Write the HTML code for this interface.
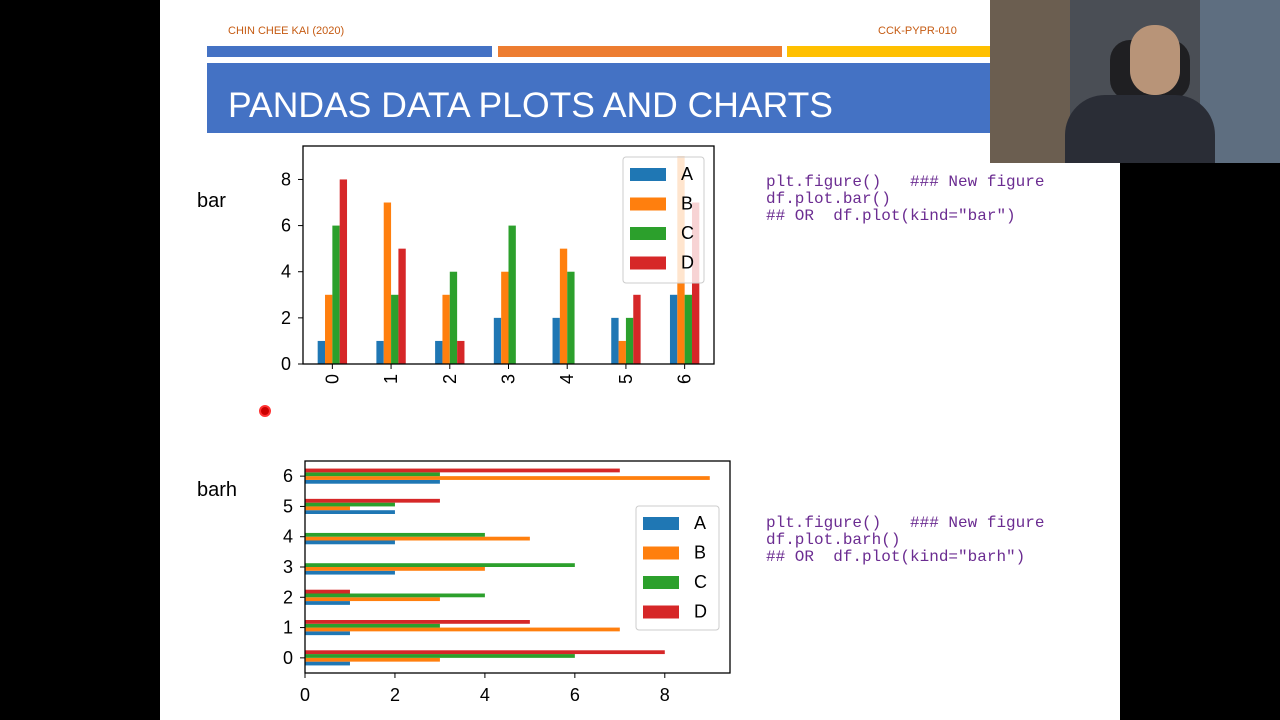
<!DOCTYPE html>
<html><head><meta charset="utf-8"><style>
body{margin:0;width:1280px;height:720px;background:#000;position:relative;overflow:hidden;font-family:"Liberation Sans",sans-serif}
.abs{position:absolute}
.code{position:absolute;font-family:"Liberation Mono",monospace;font-size:16px;color:#6b2c91;line-height:17px;white-space:pre}
</style></head><body>
<div class="abs" style="left:160px;top:0;width:960px;height:720px;background:#fff"></div>
<div class="abs" style="left:228px;top:25px;font-size:11px;color:#c55a11">CHIN CHEE KAI (2020)</div>
<div class="abs" style="left:878px;top:25px;font-size:11px;color:#c55a11">CCK-PYPR-010</div>
<div class="abs" style="left:207px;top:46px;width:285px;height:11px;background:#4472c4"></div>
<div class="abs" style="left:498px;top:46px;width:284px;height:11px;background:#ed7d31"></div>
<div class="abs" style="left:787px;top:46px;width:203px;height:11px;background:#ffc000"></div>
<div class="abs" style="left:207px;top:63px;width:783px;height:70px;background:#4472c4"></div>
<div class="abs" style="left:228px;top:85px;font-size:35.5px;color:#fff">PANDAS DATA PLOTS AND CHARTS</div>
<div class="abs" style="left:197px;top:190px;font-size:20px;color:#000">bar</div>
<div class="abs" style="left:197px;top:479px;font-size:20px;color:#000">barh</div>
<div class="code" style="left:766px;top:174px">plt.figure()   ### New figure
df.plot.bar()
## OR  df.plot(kind="bar")</div>
<div class="code" style="left:766px;top:515px">plt.figure()   ### New figure
df.plot.barh()
## OR  df.plot(kind="barh")</div>
<div class="abs" style="left:990px;top:0;width:290px;height:163px;background:#4a4e55;overflow:hidden">
 <div class="abs" style="left:0;top:0;width:80px;height:163px;background:#6b5e50"></div>
 <div class="abs" style="left:210px;top:0;width:80px;height:163px;background:#5e6e80"></div>
 <div class="abs" style="left:120px;top:40px;width:80px;height:60px;background:#1f1f22;border-radius:20px"></div>
 <div class="abs" style="left:140px;top:25px;width:50px;height:70px;background:#b89478;border-radius:24px"></div>
 <div class="abs" style="left:75px;top:95px;width:150px;height:80px;background:#2a2d36;border-radius:40px 40px 0 0"></div>
</div>
<div class="abs" style="left:259px;top:405px;width:8px;height:8px;border:2px solid #f33;border-radius:50%;background:#c00"></div>
<svg id="chart" class="abs" style="left:0;top:0" width="1280" height="720"></svg>
<script>
const categories=["0","1","2","3","4","5","6"];
const seriesNames=["A","B","C","D"];
const seriesA=[1,1,1,2,2,2,3];
const seriesB=[3,7,3,4,5,1,9];
const seriesC=[6,3,4,6,4,2,3];
const seriesD=[8,5,1,0,0,3,7];
const valueTicks=[0,2,4,6,8];
const colors=["#1f77b4","#ff7f0e","#2ca02c","#d62728"];
const series=[seriesA,seriesB,seriesC,seriesD];
const svg=document.getElementById('chart');
const NS="http://www.w3.org/2000/svg";
function mk(t,a,txt){const e=document.createElementNS(NS,t);for(const k in a)e.setAttribute(k,a[k]);if(txt!==undefined)e.textContent=txt;svg.appendChild(e);return e;}
const vmax=Math.max(...series.flat())*1.05;
const b={x0:303,x1:714,y0:146,y1:364};
const bx=i=>b.x0+(i+0.5)/categories.length*(b.x1-b.x0);
const by=v=>b.y1-v/vmax*(b.y1-b.y0);
const catW=(b.x1-b.x0)/categories.length, bw=catW*0.125;
series.forEach((s,j)=>s.forEach((v,i)=>{
 const r=mk('rect',{x:bx(i)+(j-2)*bw,y:by(v),width:bw,height:by(0)-by(v),fill:colors[j]});
 
 
}));
mk('rect',{x:b.x0,y:b.y0,width:b.x1-b.x0,height:b.y1-b.y0,fill:'none',stroke:'#000','stroke-width':1.3});
valueTicks.forEach(t=>{mk('line',{x1:b.x0-5,x2:b.x0,y1:by(t),y2:by(t),stroke:'#000'});
 const e=mk('text',{x:b.x0-12,y:by(t)+6,'text-anchor':'end','font-size':18,fill:'#000'},t);
 });
categories.forEach((c,i)=>{mk('line',{x1:bx(i),x2:bx(i),y1:b.y1,y2:b.y1+5,stroke:'#000'});
 const e=mk('text',{x:0,y:0,'text-anchor':'end','font-size':18,fill:'#000',transform:`translate(${bx(i)+6},${b.y1+10}) rotate(-90)`},c);
 });
function legend(x,y,w,h,name){
 const g=mk('rect',{x:x,y:y,width:w,height:h,fill:'#fff','fill-opacity':0.8,stroke:'#ccc',rx:3});
 
 seriesNames.forEach((n,j)=>{const yy=y+17+j*29.5;
  mk('rect',{x:x+7,y:yy-6,width:36,height:13,fill:colors[j]});
  const t=mk('text',{x:x+58,y:yy+6,'font-size':18,fill:'#000'},n);
  });
}
legend(623,157,81,126,'bar-legend');
const h={x0:305,x1:730,y0:461,y1:673};
const hx=v=>h.x0+v/vmax*(h.x1-h.x0);
const hy=i=>h.y1-(i+0.5)/categories.length*(h.y1-h.y0);
const catH=(h.y1-h.y0)/categories.length, bh=catH*0.125;
series.forEach((s,j)=>s.forEach((v,i)=>{
 const r=mk('rect',{x:hx(0),y:hy(i)-(j-1)*bh,width:hx(v)-hx(0),height:bh,fill:colors[j]});
 
 
}));
mk('rect',{x:h.x0,y:h.y0,width:h.x1-h.x0,height:h.y1-h.y0,fill:'none',stroke:'#000','stroke-width':1.3});
valueTicks.forEach(t=>{mk('line',{x1:hx(t),x2:hx(t),y1:h.y1,y2:h.y1+5,stroke:'#000'});
 const e=mk('text',{x:hx(t),y:h.y1+28,'text-anchor':'middle','font-size':18,fill:'#000'},t);
 });
categories.forEach((c,i)=>{mk('line',{x1:h.x0-5,x2:h.x0,y1:hy(i),y2:hy(i),stroke:'#000'});
 const e=mk('text',{x:h.x0-12,y:hy(i)+6,'text-anchor':'end','font-size':18,fill:'#000'},c);
 });
legend(636,506,83,124,'barh-legend');
</script>
</body></html>
